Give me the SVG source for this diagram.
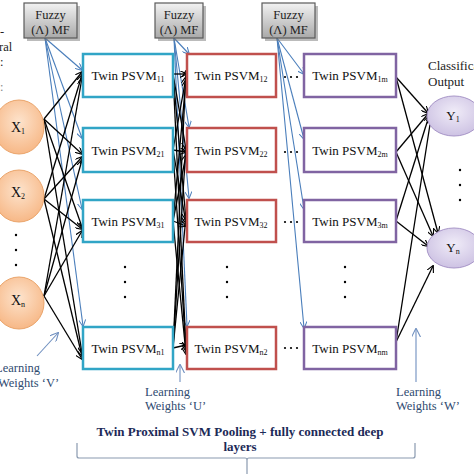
<svg xmlns="http://www.w3.org/2000/svg" width="474" height="474" viewBox="0 0 474 474">
<defs>
<linearGradient id="gGray" x1="0" y1="0" x2="0" y2="1"><stop offset="0" stop-color="#f2f2f2"/><stop offset="1" stop-color="#a9a9a9"/></linearGradient>
<radialGradient id="gOr" cx="0.5" cy="0.4" r="0.6"><stop offset="0" stop-color="#fde3cc"/><stop offset="1" stop-color="#f7b887"/></radialGradient>
<radialGradient id="gPu" cx="0.5" cy="0.4" r="0.6"><stop offset="0" stop-color="#f0ecf8"/><stop offset="1" stop-color="#cdc2e3"/></radialGradient>
<marker id="ab" viewBox="0 0 10 10" refX="9" refY="5" markerWidth="7" markerHeight="7" orient="auto" markerUnits="userSpaceOnUse"><path d="M0,0 L10,5 L0,10" fill="none" stroke="#000" stroke-width="1.6"/></marker>
<marker id="au" viewBox="0 0 10 10" refX="9" refY="5" markerWidth="7" markerHeight="7" orient="auto" markerUnits="userSpaceOnUse"><path d="M0,0 L10,5 L0,10" fill="none" stroke="#4a7ebb" stroke-width="1.4"/></marker>
<marker id="ag" viewBox="0 0 10 10" refX="9" refY="5" markerWidth="9" markerHeight="9" orient="auto" markerUnits="userSpaceOnUse"><path d="M0,0 L10,5 L0,10" fill="none" stroke="#6f8fbf" stroke-width="1.2"/></marker>
</defs>
<style>
text{font-family:"Liberation Serif","Times New Roman",serif;fill:#111}
.bt{font-size:13px}
.sb{font-size:8px}
.fz{font-size:12.5px;fill:#222}
.lbl{font-size:12.5px;fill:#2f4b70}
.ttl{font-size:13px;font-weight:bold;fill:#1c2a57}
.c1{fill:#fff;stroke:#31a5c6;stroke-width:2.5}
.c2{fill:#fff;stroke:#c0504d;stroke-width:2.5}
.c3{fill:#fff;stroke:#8064a2;stroke-width:2.5}
.fzb{fill:url(#gGray);stroke:#5a5a5a;stroke-width:1.2}
.sh{fill:#777;opacity:0.5}
.xo{fill:url(#gOr);stroke:#eaa46a;stroke-width:1}
.yo{fill:url(#gPu);stroke:#a896c8;stroke-width:1}
.k{stroke:#000;stroke-width:1.3;fill:none;marker-end:url(#ab)}
.u{stroke:#4a7ebb;stroke-width:1.1;fill:none;marker-end:url(#au)}
.g{stroke:#6f8fbf;stroke-width:1.1;fill:none;marker-end:url(#ag)}
.dot{fill:#000}
</style>

<!-- left clipped text -->
<g id="left-text">
<text class="fz" x="0" y="36">-</text>
<text class="fz" x="-1" y="51">ral</text>
<text class="fz" x="0" y="66">:</text>
<text class="fz" x="0" y="91" fill="#888" style="fill:#888">:</text>
</g>

<!-- connectors -->
<g id="connectors">
<!-- fuzzy 1 to col1 -->
<path class="u" d="M45,38 L82,70"/>
<path class="u" d="M45,38 L82,138"/>
<path class="u" d="M45,38 L82,209"/>
<path class="u" d="M45,38 L83,326"/>
<!-- fuzzy 2 to col2 -->
<path class="u" d="M174,38 L189,54"/>
<path class="u" d="M174,38 L189,127"/>
<path class="u" d="M174,38 L189,198"/>
<path class="u" d="M174,38 L187,326"/>
<!-- fuzzy 3 to col3 -->
<path class="u" d="M277,38 L304,74"/>
<path class="u" d="M277,38 L304,139"/>
<path class="u" d="M277,38 L304,209"/>
<path class="u" d="M277,38 L304,328"/>
<!-- X to col1 -->
<path class="k" d="M44,119 L82,72"/>
<path class="k" d="M44,119 L82,154"/>
<path class="k" d="M44,119 L82,227"/>
<path class="k" d="M44,119 L82,353"/>
<path class="k" d="M44,199 L82,75"/>
<path class="k" d="M44,199 L82,157"/>
<path class="k" d="M44,199 L82,229"/>
<path class="k" d="M44,199 L82,356"/>
<path class="k" d="M44,296 L82,78"/>
<path class="k" d="M44,296 L82,160"/>
<path class="k" d="M44,296 L82,231"/>
<path class="k" d="M44,296 L82,359"/>
<!-- col1 to col2 -->
<path class="k" d="M173,74 L186,74"/>
<path class="k" d="M173,74 L186,149"/>
<path class="k" d="M173,74 L186,220"/>
<path class="k" d="M173,74 L186,348"/>
<path class="k" d="M173,150 L186,77"/>
<path class="k" d="M173,150 L186,152"/>
<path class="k" d="M173,150 L186,223"/>
<path class="k" d="M173,150 L186,351"/>
<path class="k" d="M173,221 L186,80"/>
<path class="k" d="M173,221 L186,155"/>
<path class="k" d="M173,221 L186,226"/>
<path class="k" d="M173,221 L186,354"/>
<path class="k" d="M173,348 L186,71"/>
<path class="k" d="M173,348 L186,146"/>
<path class="k" d="M173,348 L186,217"/>
<path class="k" d="M173,348 L186,345"/>
<!-- col3 to Y -->
<path class="k" d="M396,77 L428,113"/>
<path class="k" d="M396,77 L438,233"/>
<path class="k" d="M396,152 L428,114"/>
<path class="k" d="M396,152 L433,236"/>
<path class="k" d="M396,221 L429,116"/>
<path class="k" d="M396,221 L428,246"/>
<path class="k" d="M396,342 L431,118"/>
<path class="k" d="M396,342 L433,266"/>
<!-- learning weight arrows -->
<path class="g" d="M37,356 L58,333"/>
<path class="g" d="M180,382 L180,365"/>
<path class="g" d="M416,382 L416,329"/>
</g>

<!-- fuzzy boxes -->
<g id="fuzzy1">
<rect class="sh" x="27" y="6" width="53" height="35"/>
<rect class="fzb" x="24" y="3" width="53" height="35"/>
<text class="fz" x="50.5" y="19" text-anchor="middle">Fuzzy</text>
<text class="fz" x="50.5" y="34" text-anchor="middle">(Λ) MF</text>
</g>
<g id="fuzzy2">
<rect class="sh" x="158" y="6" width="48" height="35"/>
<rect class="fzb" x="155" y="3" width="48" height="35"/>
<text class="fz" x="179" y="19" text-anchor="middle">Fuzzy</text>
<text class="fz" x="179" y="34" text-anchor="middle">(Λ) MF</text>
</g>
<g id="fuzzy3">
<rect class="sh" x="265" y="6" width="53" height="35"/>
<rect class="fzb" x="262" y="3" width="53" height="35"/>
<text class="fz" x="288.5" y="19" text-anchor="middle">Fuzzy</text>
<text class="fz" x="288.5" y="34" text-anchor="middle">(Λ) MF</text>
</g>

<!-- input nodes -->
<g id="x1"><ellipse class="xo" cx="19" cy="127" rx="25" ry="27"/><text class="bt" x="18" y="132" text-anchor="middle" style="font-size:14px">X<tspan class="sb" dy="2">1</tspan></text></g>
<g id="x2"><ellipse class="xo" cx="19" cy="196" rx="25" ry="26"/><text class="bt" x="18" y="197" text-anchor="middle" style="font-size:14px">X<tspan class="sb" dy="2">2</tspan></text></g>
<g id="xn"><ellipse class="xo" cx="19" cy="303" rx="25" ry="26"/><text class="bt" x="18" y="305" text-anchor="middle" style="font-size:14px">X<tspan class="sb" dy="2">n</tspan></text></g>
<g id="xdots"><circle class="dot" cx="16" cy="235" r="1.2"/><circle class="dot" cx="16" cy="250" r="1.2"/><circle class="dot" cx="16" cy="265" r="1.2"/></g>

<!-- column 1 -->
<g id="p11"><rect class="c1" x="83" y="54" width="90" height="43"/><text class="bt" x="128" y="80" text-anchor="middle">Twin PSVM<tspan class="sb" dy="2">11</tspan></text></g>
<g id="p21"><rect class="c1" x="83" y="128" width="90" height="44"/><text class="bt" x="128" y="155" text-anchor="middle">Twin PSVM<tspan class="sb" dy="2">21</tspan></text></g>
<g id="p31"><rect class="c1" x="83" y="200" width="90" height="42"/><text class="bt" x="128" y="226" text-anchor="middle">Twin PSVM<tspan class="sb" dy="2">31</tspan></text></g>
<g id="pn1"><rect class="c1" x="83" y="327" width="90" height="42"/><text class="bt" x="128" y="353" text-anchor="middle">Twin PSVM<tspan class="sb" dy="2">n1</tspan></text></g>
<g id="c1dots"><circle class="dot" cx="125" cy="267" r="1.2"/><circle class="dot" cx="125" cy="282" r="1.2"/><circle class="dot" cx="125" cy="297" r="1.2"/></g>

<!-- column 2 -->
<g id="p12"><rect class="c2" x="187" y="54" width="89" height="43"/><text class="bt" x="231" y="80" text-anchor="middle">Twin PSVM<tspan class="sb" dy="2">12</tspan></text></g>
<g id="p22"><rect class="c2" x="187" y="128" width="89" height="44"/><text class="bt" x="231" y="155" text-anchor="middle">Twin PSVM<tspan class="sb" dy="2">22</tspan></text></g>
<g id="p32"><rect class="c2" x="187" y="200" width="89" height="42"/><text class="bt" x="231" y="226" text-anchor="middle">Twin PSVM<tspan class="sb" dy="2">32</tspan></text></g>
<g id="pn2"><rect class="c2" x="187" y="327" width="89" height="42"/><text class="bt" x="231" y="353" text-anchor="middle">Twin PSVM<tspan class="sb" dy="2">n2</tspan></text></g>
<g id="c2dots"><circle class="dot" cx="227" cy="267" r="1.2"/><circle class="dot" cx="227" cy="282" r="1.2"/><circle class="dot" cx="227" cy="297" r="1.2"/></g>

<!-- ellipsis between col2 and col3 -->
<g id="hdots">
<circle class="dot" cx="285" cy="77" r="1.1"/><circle class="dot" cx="291" cy="77" r="1.1"/><circle class="dot" cx="297" cy="77" r="1.1"/>
<circle class="dot" cx="285" cy="152" r="1.1"/><circle class="dot" cx="291" cy="152" r="1.1"/><circle class="dot" cx="297" cy="152" r="1.1"/>
<circle class="dot" cx="285" cy="222" r="1.1"/><circle class="dot" cx="291" cy="222" r="1.1"/><circle class="dot" cx="297" cy="222" r="1.1"/>
<circle class="dot" cx="285" cy="348" r="1.1"/><circle class="dot" cx="291" cy="348" r="1.1"/><circle class="dot" cx="297" cy="348" r="1.1"/>
</g>

<!-- column 3 -->
<g id="p1m"><rect class="c3" x="304" y="54" width="92" height="43"/><text class="bt" x="350" y="80" text-anchor="middle">Twin PSVM<tspan class="sb" dy="2">1m</tspan></text></g>
<g id="p2m"><rect class="c3" x="304" y="128" width="92" height="44"/><text class="bt" x="350" y="155" text-anchor="middle">Twin PSVM<tspan class="sb" dy="2">2m</tspan></text></g>
<g id="p3m"><rect class="c3" x="304" y="200" width="92" height="42"/><text class="bt" x="350" y="226" text-anchor="middle">Twin PSVM<tspan class="sb" dy="2">3m</tspan></text></g>
<g id="pnm"><rect class="c3" x="304" y="327" width="92" height="42"/><text class="bt" x="350" y="353" text-anchor="middle">Twin PSVM<tspan class="sb" dy="2">nm</tspan></text></g>
<g id="c3dots"><circle class="dot" cx="345" cy="267" r="1.2"/><circle class="dot" cx="345" cy="282" r="1.2"/><circle class="dot" cx="345" cy="297" r="1.2"/></g>

<!-- outputs -->
<g id="out-label"><text class="fz" x="428" y="70" style="font-size:13px">Classificat</text><text class="fz" x="428" y="86" style="font-size:13px">Output</text></g>
<g id="y1"><ellipse class="yo" cx="454" cy="116" rx="27" ry="20"/><text class="bt" x="453" y="120" text-anchor="middle">Y<tspan class="sb" dy="2">1</tspan></text></g>
<g id="yn"><ellipse class="yo" cx="454" cy="248" rx="27" ry="20"/><text class="bt" x="453" y="252" text-anchor="middle">Y<tspan class="sb" dy="2">n</tspan></text></g>
<g id="ydots"><circle class="dot" cx="460" cy="170" r="1.2"/><circle class="dot" cx="460" cy="185" r="1.2"/><circle class="dot" cx="460" cy="200" r="1.2"/></g>

<!-- labels -->
<g id="lw-v"><text class="lbl" x="-5" y="372">Learning</text><text class="lbl" x="-2" y="387">Weights ‘V’</text></g>
<g id="lw-u"><text class="lbl" x="145" y="396">Learning</text><text class="lbl" x="145" y="410">Weights ‘U’</text></g>
<g id="lw-w"><text class="lbl" x="396" y="396">Learning</text><text class="lbl" x="396" y="410">Weights ‘W’</text></g>

<g id="title">
<text class="ttl" x="240" y="436" text-anchor="middle">Twin Proximal SVM Pooling + fully connected deep</text>
<text class="ttl" x="240" y="451" text-anchor="middle">layers</text>
<path d="M77,443 L77,456 Q77,458 79,458 L245,458 Q247,458 247,460 L247,474 M247,460 Q247,458 249,458 L413,458 Q415,458 415,456 L415,443" fill="none" stroke="#8a9ab0" stroke-width="1.2"/>
</g>
</svg>
